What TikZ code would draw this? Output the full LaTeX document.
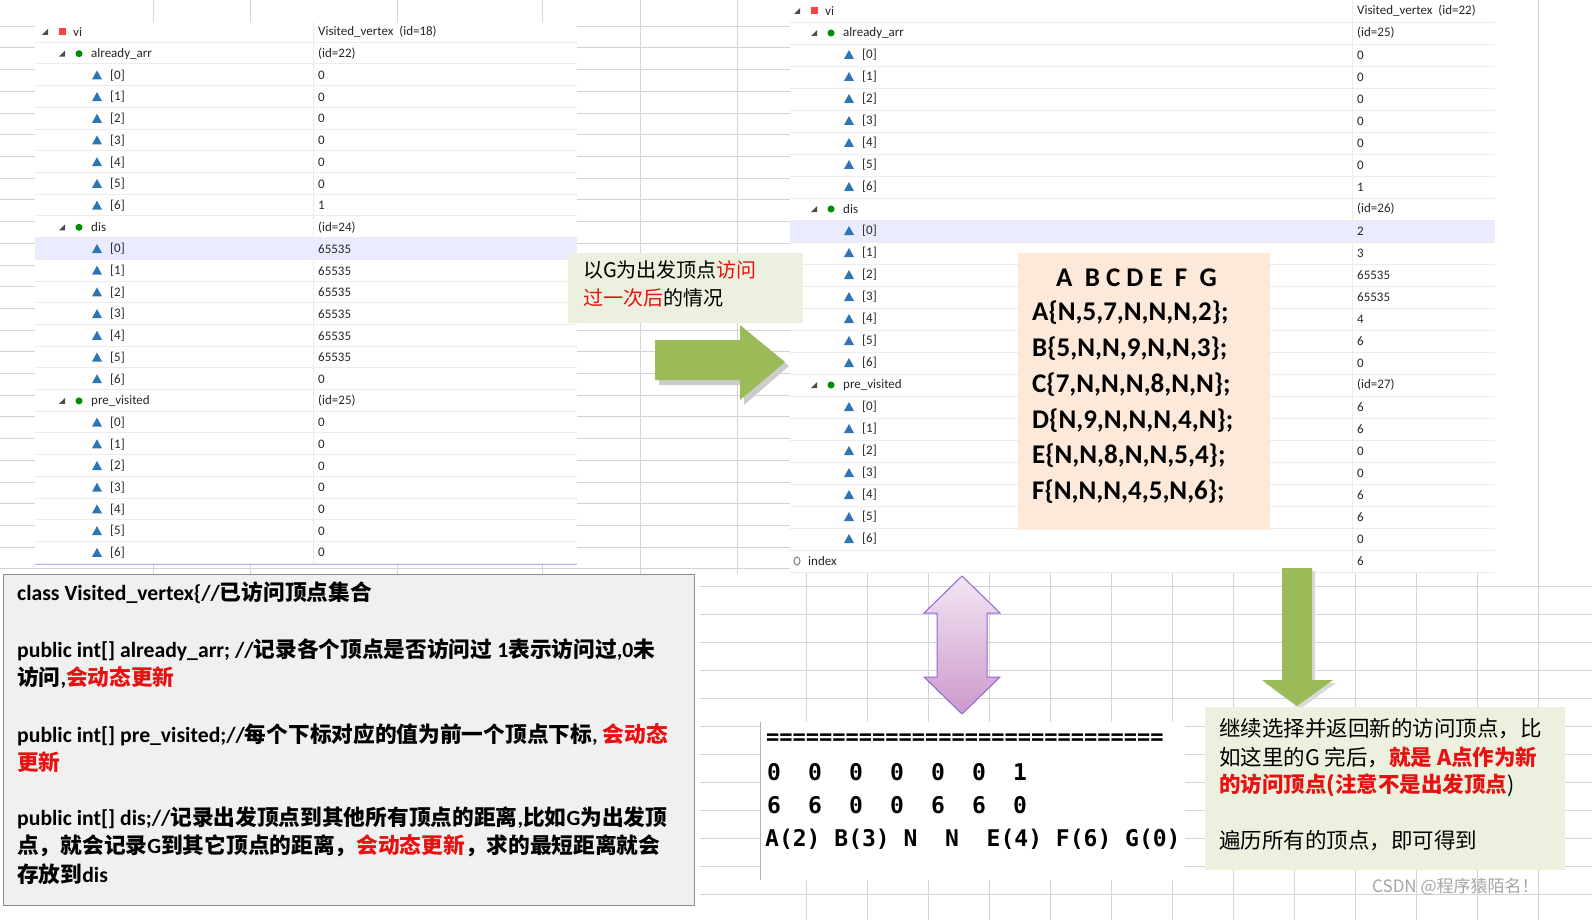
\documentclass[tikz,border=0pt]{standalone}
\usepackage{fontspec}
\setmainfont{Carlito}
\newfontfamily\cjk{Noto Sans CJK SC}
\newfontfamily\mono{DejaVu Sans Mono}
\usetikzlibrary{shadings}
\definecolor{gridc}{HTML}{D4D4D4}
\definecolor{sepc}{HTML}{ECECEC}
\definecolor{redt}{HTML}{E81010}
\definecolor{garrow}{HTML}{9BBB59}
\definecolor{gbox}{HTML}{EBF1DE}
\definecolor{peach}{HTML}{FDE9D9}
\definecolor{tri}{HTML}{2E75B6}
\newcommand\zh[1]{{\cjk #1}}
\newcommand\rd[1]{\textcolor{redt}{#1}}
\tikzset{
  tt/.style={anchor=west,inner sep=0pt,font=\fontsize{13}{13}\selectfont,text=black!85},
  codet/.style={anchor=west,inner sep=0pt,font=\fontsize{21.7}{21.7}\selectfont\bfseries},
  peacht/.style={anchor=west,inner sep=0pt,font=\fontsize{27}{27}\selectfont\bfseries},
  cont/.style={anchor=west,inner sep=0pt,font=\fontsize{23}{23}\selectfont\mono\bfseries},
  notet/.style={anchor=west,inner sep=0pt,font=\fontsize{20}{20}\selectfont\cjk},
  gnote/.style={anchor=west,inner sep=0pt,font=\fontsize{21.5}{21.5}\selectfont\cjk},
}
% \trow{xbase}{y}{level}{label}{value}{valx}{name}
\newcommand\trow[7]{%
  \ifcase#3
    \fill[black!70] ({#1+3},{#2-3})--({#1+3},{#2+3})--({#1-3},{#2+3})--cycle;
    \fill[red!75] ({#1+14},{#2-4}) rectangle ({#1+21},{#2+3});
    \node[tt] (#7) at ({#1+28},{#2}) {#4};
  \or
    \fill[black!70] ({#1+20},{#2-3})--({#1+20},{#2+3})--({#1+14},{#2+3})--cycle;
    \fill[green!55!black] ({#1+34},{#2}) circle (3.5);
    \node[tt] (#7) at ({#1+46},{#2}) {#4};
  \or
    \fill[tri] ({#1+52},{#2-5})--({#1+57},{#2+4})--({#1+47},{#2+4})--cycle;
    \node[tt] (#7) at ({#1+65},{#2}) {#4};
  \or
    \draw[black!50,line width=1pt] ({#1},{#2}) ellipse (3 and 4);
    \node[tt] (#7) at ({#1+11},{#2}) {#4};
  \fi
  \node[tt] (#7v) at (#6,{#2}) {#5};
}
\begin{document}
\begin{tikzpicture}[x=1pt,y=-1pt]
\useasboundingbox (0,0) rectangle (1592,920);
\fill[white] (0,0) rectangle (1592,920);
% grid
\foreach \x in {153,250,397,542,640,737} \draw[gridc] (\x,0)--(\x,574);
\foreach \k in {0,...,25} \draw[gridc] (0,{26+21.7*\k})--(790,{26+21.7*\k});
\foreach \k in {0,...,12} \draw[gridc] ({806+61*\k},0)--({806+61*\k},920);
\foreach \k in {0,...,12} \draw[gridc] (700,{586+28*\k})--(1592,{586+28*\k});
% left tree
\fill[white] (35,22) rectangle (577,563);
\foreach \k in {0,...,24} \draw[sepc] (35,{42+21.7*\k})--(577,{42+21.7*\k});
\fill[blue!8] (35,238) rectangle (577,259);
\draw[sepc] (313,22)--(313,563);
\draw[blue!30,line width=1pt] (35,564)--(577,564);
\trow{45}{32}{0}{vi}{Visited\_vertex\ \ (id=18)}{318}{La}
\trow{45}{53.7}{1}{already\_arr}{(id=22)}{318}{Lb}
\foreach \v [count=\i from 0] in {0,0,0,0,0,0,1}
  {\trow{45}{75.4+21.7*\i}{2}{[\i]}{\v}{318}{Lc\i}}
\trow{45}{227.3}{1}{dis}{(id=24)}{318}{Ld}
\foreach \v [count=\i from 0] in {65535,65535,65535,65535,65535,65535,0}
  {\trow{45}{249+21.7*\i}{2}{[\i]}{\v}{318}{Le\i}}
\trow{45}{400.9}{1}{pre\_visited}{(id=25)}{318}{Lf}
\foreach \v [count=\i from 0] in {0,0,0,0,0,0,0}
  {\trow{45}{422.6+21.7*\i}{2}{[\i]}{\v}{318}{Lg\i}}
% right tree
\fill[white] (790,0) rectangle (1495,572);
\foreach \k in {0,...,25} \draw[sepc] (790,{22+22*\k})--(1495,{22+22*\k});
\fill[blue!8] (790,221) rectangle (1495,242);
\draw[sepc] (1352,0)--(1352,572);
\trow{797}{11}{0}{vi}{Visited\_vertex\ \ (id=22)}{1357}{Ra}
\trow{797}{33}{1}{already\_arr}{(id=25)}{1357}{Rb}
\foreach \v [count=\i from 0] in {0,0,0,0,0,0,1}
  {\trow{797}{55+22*\i}{2}{[\i]}{\v}{1357}{Rc\i}}
\trow{797}{209}{1}{dis}{(id=26)}{1357}{Rd}
\foreach \v [count=\i from 0] in {2,3,65535,65535,4,6,0}
  {\trow{797}{231+22*\i}{2}{[\i]}{\v}{1357}{Re\i}}
\trow{797}{385}{1}{pre\_visited}{(id=27)}{1357}{Rf}
\foreach \v [count=\i from 0] in {6,6,0,0,6,6,0}
  {\trow{797}{407+22*\i}{2}{[\i]}{\v}{1357}{Rg\i}}
\trow{797}{561}{3}{index}{6}{1357}{Rh}
% note box
\fill[gbox] (568,253) rectangle (803,323);
\node[notet] (n1) at (583,270) {以G为出发顶点\rd{访问}};
\node[notet] (n2) at (583,298) {\rd{过一次后}的情况};
% green right arrow
\fill[black!20] (659,345)--(744,345)--(744,330)--(789,366)--(744,405)--(744,385)--(659,385)--cycle;
\fill[garrow] (655,340)--(740,340)--(740,325)--(785,362)--(740,400)--(740,380)--(655,380)--cycle;
% peach box
\fill[peach] (1018,253) rectangle (1270,530);
\node[peacht] (p0) at (1056,278) {A\ \ B C D E\ \ F\ \ G};
\node[peacht] (pA) at (1032,313) {A\{N,5,7,N,N,N,2\};};
\node[peacht] (pB) at (1032,349) {B\{5,N,N,9,N,N,3\};};
\node[peacht] (pC) at (1032,385) {C\{7,N,N,N,8,N,N\};};
\node[peacht] (pD) at (1032,421) {D\{N,9,N,N,N,4,N\};};
\node[peacht] (pE) at (1032,456) {E\{N,N,8,N,N,5,4\};};
\node[peacht] (pF) at (1032,492) {F\{N,N,N,4,5,N,6\};};
% code box
\fill[black!6] (3,574) rectangle (694,905);
\draw[black!45,line width=1pt] (3,574) rectangle (694,905);
\node[codet] (c1) at (17,593) {class Visited\_vertex\{//\zh{已访问顶点集合}};
\node[codet] (c2) at (17,650) {public int[] already\_arr; //\zh{记录各个顶点是否访问过 }1\zh{表示访问过}{,}0\zh{未}};
\node[codet] (c3) at (17,678) {\zh{访问}{,}\rd{\zh{会动态更新}}};
\node[codet] (c4) at (17,735) {public int[] pre\_visited;//\zh{每个下标对应的值为前一个顶点下标}, \rd{\zh{会动态}}};
\node[codet] (c5) at (17,762) {\rd{\zh{更新}}};
\node[codet] (c6) at (17,818) {public int[] dis;//\zh{记录出发顶点到其他所有顶点的距离}{,}\zh{比如}G\zh{为出发顶}};
\node[codet] (c7) at (17,846) {\zh{点，就会记录}G\zh{到其它顶点的距离，}\rd{\zh{会动态更新}}\zh{，求的最短距离就会}};
\node[codet] (c8) at (17,874) {\zh{存放到}dis};
% purple double arrow
\shade[top color=violet!10,bottom color=violet!40,draw=violet!55!blue!60,line width=1pt]
  (962,576)--(1000,613)--(987,613)--(987,677)--(1000,677)--(962,714)--(924,677)--(937,677)--(937,613)--(924,613)--cycle;
% green down arrow
\fill[black!15] (1285,571)--(1315,571)--(1315,683)--(1336,683)--(1300,709)--(1265,683)--(1285,683)--cycle;
\fill[garrow] (1282,568)--(1312,568)--(1312,680)--(1333,680)--(1297,706)--(1262,680)--(1282,680)--cycle;
% console
\fill[white] (760,722) rectangle (1185,880);
\draw[black!30] (760,722)--(760,880);
\node[anchor=west,inner sep=0pt,font=\fontsize{22}{22}\selectfont\mono\bfseries] (e0) at (766,739) {==============================};
\foreach \v [count=\i from 0] in {0,0,0,0,0,0,1}
  {\node[cont] (r1\i) at ({767+41*\i},772) {\v};}
\foreach \v [count=\i from 0] in {6,6,0,0,6,6,0}
  {\node[cont] (r2\i) at ({767+41*\i},805) {\v};}
\node[cont] (r3) at (765,839) {A(2) B(3) N\ \ N\ \ E(4) F(6) G(0)};
% right green note
\fill[gbox] (1205,707) rectangle (1565,870);
\node[gnote] (g1) at (1219,729) {继续选择并返回新的访问顶点，比};
\node[gnote] (g2) at (1219,757) {如这里的G 完后，\textcolor{redt}{\bfseries 就是 A点作为新}};
\node[gnote] (g3) at (1219,785) {\textcolor{redt}{\bfseries 的访问顶点(注意不是出发顶点}{)}};
\node[gnote] (g4) at (1219,841) {遍历所有的顶点，即可得到};
\node[anchor=west,inner sep=0pt,font=\fontsize{17}{17}\selectfont\cjk,text=black!35] (wm) at (1372,887) {CSDN @程序猿陌名！};
\end{tikzpicture}
\end{document}
